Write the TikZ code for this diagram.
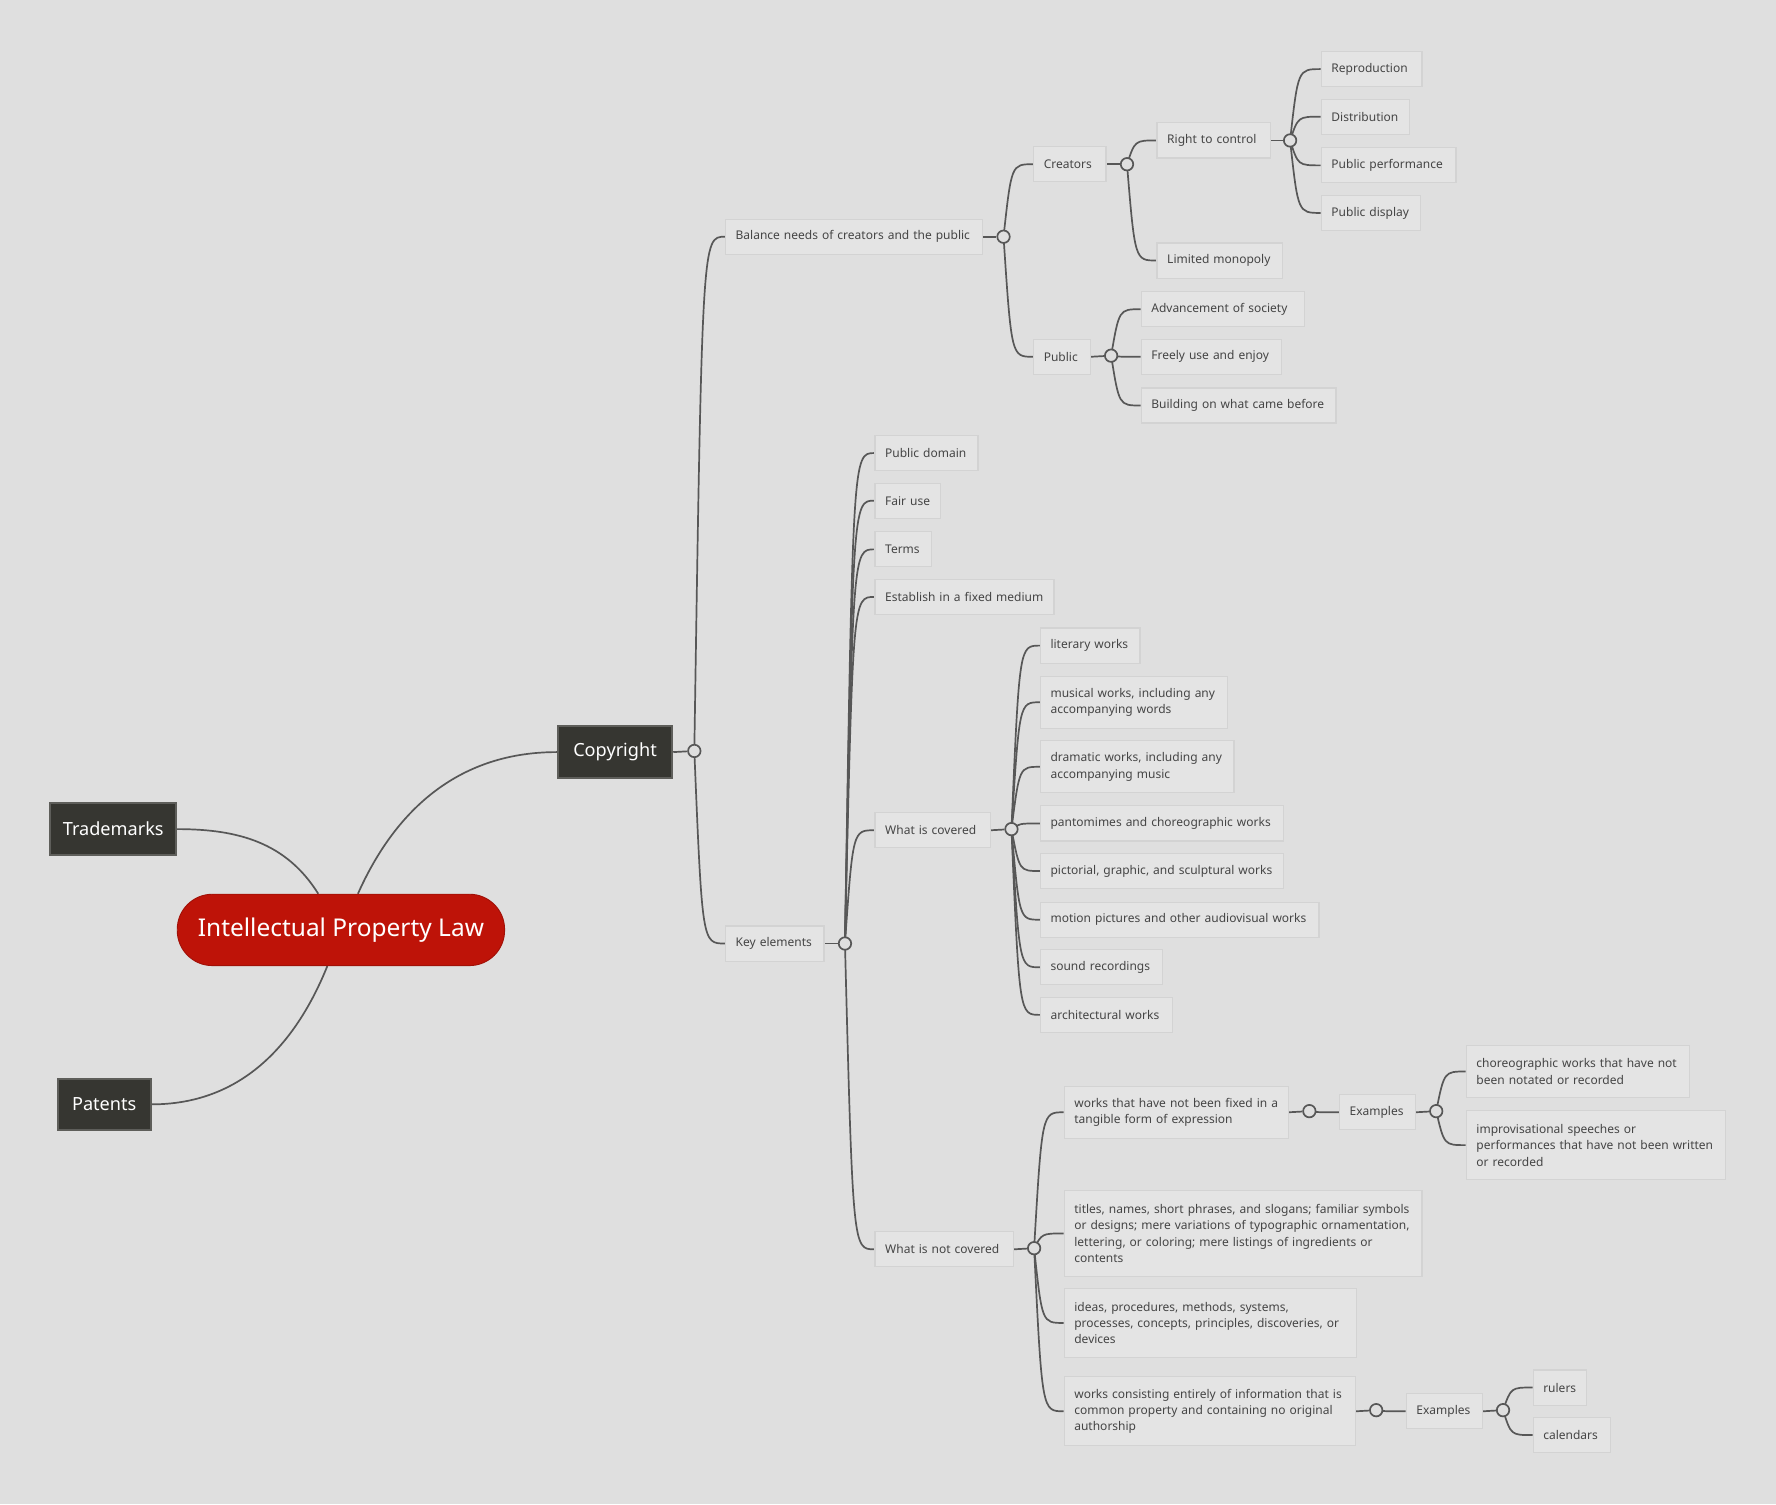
\documentclass[tikz,border=0pt]{standalone}
\usepackage{fontspec}
\setmainfont{Noto Sans}
\usetikzlibrary{calc}
\definecolor{bgc}{HTML}{DFDFDF}
\definecolor{boxfill}{HTML}{E4E4E4}
\definecolor{boxln}{HTML}{D3D3D3}
\definecolor{txt}{HTML}{454545}
\definecolor{ln}{HTML}{575757}
\definecolor{dark}{HTML}{363631}
\definecolor{darkln}{HTML}{5E5E5A}
\definecolor{rootred}{HTML}{BE1308}
\pgfdeclarelayer{back}
\pgfdeclarelayer{lines}
\pgfsetlayers{back,lines,main}
\newcommand\leafnode[7][]{\node[lf,text width=#5pt,minimum height=#6pt,#1] (#2) at (#3,#4) {#7};}
\newcommand\forkto[2]{\draw[conn] (#1.center) .. controls ($(#1.center |- #2.west)+(7,0)$) .. (#2.west);}
\begin{document}
\begin{tikzpicture}[x=1pt,y=-1pt,
  lf/.style={draw=boxln,fill=boxfill,line width=1pt,text=txt,
    font=\fontsize{10.6}{14.5}\selectfont,inner xsep=9pt,inner ysep=1pt,anchor=west,align=left},
  bignode/.style={draw=darkln,fill=dark,line width=1.8pt,text=white,
    font=\fontsize{16}{19}\selectfont,inner sep=0pt},
  fork/.style={circle,draw=ln,fill=bgc,line width=1.5pt,minimum size=11pt,inner sep=0pt},
  conn/.style={draw=ln,line width=1.5pt}]
\begin{pgfonlayer}{back}
\fill[bgc] (0,0) rectangle (1568,1328);
\end{pgfonlayer}
\useasboundingbox (0,0) rectangle (1568,1328);

% main nodes
\node[draw=rootred!85!black,line width=0.8pt,fill=rootred,text=white,rounded corners=31pt,
  minimum width=289pt,minimum height=63pt,inner sep=0pt,font=\fontsize{21.6}{25}\selectfont]
  (root) at (301,821) {Intellectual Property Law};
\node[bignode,minimum width=111pt,minimum height=46pt] (tm) at (100,732) {Trademarks};
\node[bignode,minimum width=82pt,minimum height=45pt] (pat) at (92,975) {Patents};
\node[bignode,minimum width=101pt,minimum height=46pt] (copy) at (543,664) {Copyright};

% forks
\node[fork] (c0) at (613,663) {};
\node[fork] (c1) at (886,209) {};
\node[fork] (c2) at (995,145) {};
\node[fork] (c3) at (1139,124) {};
\node[fork] (c4) at (981,314) {};
\node[fork] (c5) at (746,833) {};
\node[fork] (c6) at (893,732) {};
\node[fork] (c7) at (913,1102) {};
\node[fork] (c8) at (1156,981) {};
\node[fork] (c9) at (1268,981) {};
\node[fork] (c10) at (1215,1245) {};
\node[fork] (c11) at (1327,1245) {};

% leaves
\leafnode{bal}{640}{209}{209}{31}{Balance needs of creators and the public}
\leafnode{cre}{912}{145}{46}{31}{Creators}
\leafnode{pub}{912}{315}{32}{31}{Public}
\leafnode{rtc}{1021}{124}{82}{31}{Right to control}
\leafnode{lim}{1021}{230}{93}{31}{Limited monopoly}
\leafnode{rep}{1166}{61}{71}{31}{Reproduction}
\leafnode{dis}{1166}{103}{60}{31}{Distribution}
\leafnode{perf}{1166}{146}{101}{31}{Public performance}
\leafnode{disp}{1166}{188}{70}{31}{Public display}
\leafnode{adv}{1007}{273}{126}{31}{Advancement of society}
\leafnode{fre}{1007}{315}{106}{31}{Freely use and enjoy}
\leafnode{bui}{1007}{358}{154}{31}{Building on what came before}
\leafnode{key}{640}{833}{69}{31}{Key elements}
\leafnode{pd}{772}{400}{73}{31}{Public domain}
\leafnode{fu}{772}{442}{40}{31}{Fair use}
\leafnode{ter}{772}{485}{32}{31}{Terms}
\leafnode{est}{772}{527}{140}{31}{Establish in a fixed medium}
\leafnode{wic}{772}{733}{84}{31}{What is covered}
\leafnode{wnc}{772}{1103}{104}{31}{What is not covered}
\leafnode{lit}{918}{570}{70}{31}{literary works}
\leafnode{mus}{918}{620}{147}{46}{musical works, including any\\accompanying words}
\leafnode{dra}{918}{677}{153}{46}{dramatic works, including any\\accompanying music}
\leafnode{pan}{918}{727}{197}{31}{pantomimes and choreographic works}
\leafnode{pic}{918}{769}{197}{31}{pictorial, graphic, and sculptural works}
\leafnode{mot}{918}{812}{228}{31}{motion pictures and other audiovisual works}
\leafnode{sou}{918}{854}{90}{31}{sound recordings}
\leafnode{arc}{918}{896}{99}{31}{architectural works}
\leafnode{nf}{939}{982}{180}{46}{works that have not been fixed in a\\tangible form of expression}
\leafnode{ex1}{1182}{982}{49}{31}{Examples}
\leafnode{cho}{1294}{946}{179}{46}{choreographic works that have not\\been notated or recorded}
\leafnode{imp}{1294}{1011}{211}{61}{improvisational speeches or\\performances that have not been written\\or recorded}
\leafnode{tit}{939}{1089}{298}{76}{titles, names, short phrases, and slogans; familiar symbols\\or designs; mere variations of typographic ornamentation,\\lettering, or coloring; mere listings of ingredients or\\contents}
\leafnode{ide}{939}{1168}{240}{61}{ideas, procedures, methods, systems,\\processes, concepts, principles, discoveries, or\\devices}
\leafnode{wce}{939}{1246}{239}{61}{works consisting entirely of information that is\\common property and containing no original\\authorship}
\leafnode{ex2}{1241}{1246}{49}{31}{Examples}
\leafnode{rul}{1353}{1225}{29}{31}{rulers}
\leafnode{cal}{1353}{1267}{50}{31}{calendars}

\begin{pgfonlayer}{lines}
% root connectors
\draw[conn] (tm.east) to[out=0,in=122] ($(root.north)+(-20,0)$);
\draw[conn] ($(root.north)+(15,0)$) to[out=66,in=180] (copy.west);
\draw[conn] ($(root.south)+(-12,0)$) to[out=-112,in=0] (pat.east);
% parent to fork
\draw[conn] (copy.east) -- (c0);
\draw[conn] (bal.east) -- (c1);
\draw[conn] (cre.east) -- (c2);
\draw[conn] (rtc.east) -- (c3);
\draw[conn] (pub.east) -- (c4);
\draw[conn] (key.east) -- (c5);
\draw[conn] (wic.east) -- (c6);
\draw[conn] (wnc.east) -- (c7);
\draw[conn] (nf.east) -- (c8);
\draw[conn] (ex1.east) -- (c9);
\draw[conn] (wce.east) -- (c10);
\draw[conn] (ex2.east) -- (c11);
% fork to children
\forkto{c0}{bal}\forkto{c0}{key}
\forkto{c1}{cre}\forkto{c1}{pub}
\forkto{c2}{rtc}\forkto{c2}{lim}
\forkto{c3}{rep}\forkto{c3}{dis}\forkto{c3}{perf}\forkto{c3}{disp}
\forkto{c4}{adv}\forkto{c4}{fre}\forkto{c4}{bui}
\forkto{c5}{pd}\forkto{c5}{fu}\forkto{c5}{ter}\forkto{c5}{est}\forkto{c5}{wic}\forkto{c5}{wnc}
\forkto{c6}{lit}\forkto{c6}{mus}\forkto{c6}{dra}\forkto{c6}{pan}\forkto{c6}{pic}\forkto{c6}{mot}\forkto{c6}{sou}\forkto{c6}{arc}
\forkto{c7}{nf}\forkto{c7}{tit}\forkto{c7}{ide}\forkto{c7}{wce}
\forkto{c8}{ex1}
\forkto{c9}{cho}\forkto{c9}{imp}
\forkto{c10}{ex2}
\forkto{c11}{rul}\forkto{c11}{cal}
\end{pgfonlayer}
\end{tikzpicture}
\end{document}
